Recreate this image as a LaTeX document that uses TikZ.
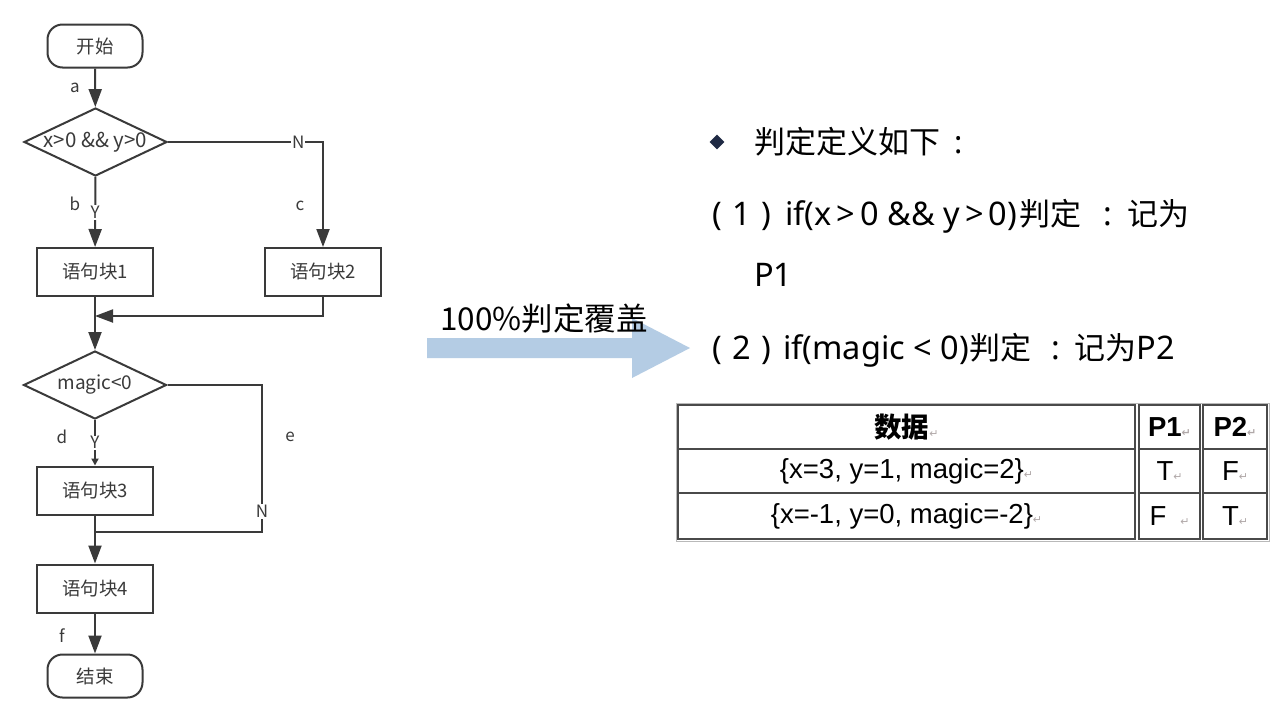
\documentclass[tikz,border=0pt]{standalone}
\usepackage{fontspec}
\setmainfont{Noto Sans CJK SC}
\newfontfamily\cjkf{Noto Sans CJK SC}
\newfontfamily\latf{Noto Sans}
\newfontfamily\arialf{Liberation Sans}
\newfontfamily\djv{DejaVu Sans}
\usetikzlibrary{arrows.meta,shapes.geometric}
\definecolor{ln}{HTML}{3A3A3A}
\definecolor{arrblue}{HTML}{B4CCE4}
\definecolor{navy}{HTML}{1F2A44}
\definecolor{tb}{HTML}{4A4A4A}
\definecolor{retc}{HTML}{B0A8A8}
\newcommand{\retm}{{\djv\fontsize{11}{12}\selectfont\color{retc}↵}}
\newcommand{\gtx}{\hspace{5pt}>\hspace{5pt}}
\newcommand{\LT}[1]{{\latf\fontsize{32.5}{36}\selectfont #1}}
\begin{document}
\begin{tikzpicture}[x=1pt,y=-1pt,
  fc/.style={draw=ln, line width=2pt, font=\fontsize{18.5}{22}\selectfont, text=ln, inner sep=0pt},
  term/.style={fc, rectangle, rounded corners=15pt, minimum width=95pt, minimum height=43pt},
  proc/.style={fc, rectangle, minimum width=116pt, minimum height=48pt},
  dec/.style={fc, diamond, minimum width=143pt, minimum height=68pt},
  conn/.style={draw=ln, line width=2pt},
  arr/.style={conn, -{Triangle[length=18pt,width=13pt]}},
  lab/.style={font=\fontsize{17}{19}\selectfont, text=ln, inner sep=1pt},
  onl/.style={lab, fill=white},
  dtx/.style={lab, font=\fontsize{19}{21}\selectfont},
  rt/.style={font=\fontsize{31}{36}\selectfont, inner sep=0pt, anchor=west},
  cell/.style={draw=tb, line width=1.6pt, inner sep=0pt, font=\arialf\fontsize{27.5}{30}\selectfont}
]
\useasboundingbox (0,0) rectangle (1282,713);
\fill[white] (0,0) rectangle (1282,713);

% flowchart nodes
\node[term] (start) at (95,46) {开始};
\node[dec, label={[dtx, name=d1t, font=\fontsize{20.5}{22}\selectfont]center:x>0 \&\& y>0}] (d1) at (95.5,142) {};
\node[proc] (b1) at (95,272) {语句块1};
\node[proc] (b2) at (323,272) {语句块2};
\node[dec, label={[dtx, name=d2t]center:magic<0}] (d2) at (95,385) {};
\node[proc] (b3) at (95,490.5) {语句块3};
\node[proc] (b4) at (95,588.5) {语句块4};
\node[term] (end) at (95,676) {结束};

\coordinate (m1) at (95,316);
\coordinate (m2) at (95,532);
\coordinate (e1) at (262,532);

% connectors
\draw[arr] (start) -- (d1);
\draw[arr] (d1) -- node[onl, pos=0.51] (y1) {Y} (b1);
\draw[arr] (d1.east) -| node[onl, pos=0.42] (n1) {N} (b2.north);
\draw[arr] (b2.south) |- (m1);
\draw[arr] (b1) -- (d2);
\draw[conn, -{Triangle[length=7pt,width=7pt]}] (d2) -- node[onl, pos=0.5] (y2) {Y} (b3);
\draw[conn] (d2.east) -| node[onl, pos=0.93] (n2) {N} (e1) -- (m2);
\draw[arr] (b3) -- (b4);
\draw[arr] (b4) -- (end);

% edge letters
\node[lab] (la) at (75,88) {a};
\node[lab] (lb) at (75,204) {b};
\node[lab] (lc) at (300,206) {c};
\node[lab] (ld) at (62,437) {d};
\node[lab] (le) at (290,437) {e};
\node[lab] (lf) at (62,636) {f};

% big arrow
\fill[arrblue] (427,338) -- (632,338) -- (632,318) -- (690,348) -- (632,378) -- (632,358) -- (427,358) -- cycle;
\node[font=\fontsize{31.5}{36}\selectfont, inner sep=0pt] (cov) at (544,319) {100\%判定覆盖};

% right text
\node[diamond, fill=navy, minimum size=15pt, inner sep=0pt] (bul) at (717,142) {};
\node[rt] (t0) at (754,142) {判定定义如下\hspace{14pt}{\latf :}};
\node[rt] (t1) at (712,216) {\LT{(\hspace{11pt}1\hspace{10pt})\hspace{14pt}if(x\gtx 0 \&\& y\gtx 0)}\hspace{3pt}判定\hspace{22pt}\LT{:}\hspace{15pt}记为};
\node[rt] (t2) at (754,275) {\LT{P1}};
\node[rt] (t3) at (712,350) {\LT{(\hspace{11pt}2\hspace{10pt})\hspace{12pt}if(magic < 0)}判定\hspace{20pt}\LT{:}\hspace{15pt}记为\LT{P2}};

% table
\draw[gray!55, line width=1pt] (676,403) rectangle (1269,541);
\node[cell, minimum width=457pt, minimum height=44pt] (h1) at (906.5,427) {{\cjkf\bfseries 数据}\retm};
\node[cell, minimum width=61pt, minimum height=44pt] (h2) at (1169.5,427) {\bfseries P1\retm};
\node[cell, minimum width=64pt, minimum height=44pt] (h3) at (1235,427) {\bfseries P2\retm};
\node[cell, minimum width=457pt, minimum height=44pt] (r11) at (906.5,471) {\{x=3, y=1, magic=2\}\retm};
\node[cell, minimum width=61pt, minimum height=44pt] (r12) at (1169.5,471) {T\retm};
\node[cell, minimum width=64pt, minimum height=44pt] (r13) at (1235,471) {F\retm};
\node[cell, minimum width=457pt, minimum height=46pt] (r21) at (906.5,516) {\{x=-1, y=0, magic=-2\}\retm};
\node[cell, minimum width=61pt, minimum height=46pt] (r22) at (1169.5,516) {F\hspace{14pt}\retm};
\node[cell, minimum width=64pt, minimum height=46pt] (r23) at (1235,516) {T\retm};
\end{tikzpicture}
\end{document}
